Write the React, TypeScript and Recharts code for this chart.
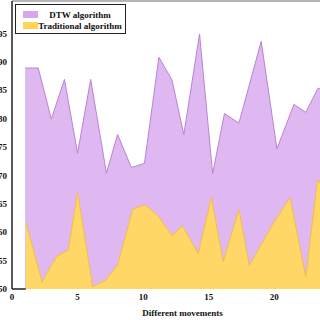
import { AreaChart, Area, XAxis, YAxis, Legend, ReferenceLine } from 'recharts';

const dtwX = [1, 2, 3, 4, 5, 6, 7.2, 8.05, 9.1, 10.1, 11.2, 12.2, 13.1, 14.3, 15.3, 16.2, 17.3, 19, 20.2, 21.5, 22.4, 23.3, 24.2];
const dtwY = [88.9, 88.9, 79.9, 86.9, 73.9, 86.9, 70.4, 77.2, 71.4, 72.1, 90.8, 86.8, 77.2, 94.9, 70.3, 80.9, 79.2, 93.6, 74.7, 82.5, 81.1, 85.2, 86];

const tradX = [1.05, 2.3, 3.05, 3.4, 4.3, 5, 6.15, 7.15, 8.05, 9.2, 10.1, 11.1, 12.2, 13, 14.2, 15.2, 16.1, 17.3, 18.1, 19.85, 21.2, 22.4, 23.3, 24.2];
const tradY = [61.8, 51.2, 54.4, 55.7, 56.9, 67.1, 50.4, 51.6, 54.2, 64, 64.8, 63, 59.4, 61.1, 56.2, 66.1, 54.8, 64, 54.1, 61.3, 66.1, 52.1, 69.3, 66];

const xTicks = [0, 5, 10, 15, 20];
const yTicks = [50, 55, 60, 65, 70, 75, 80, 85, 90, 95];
const seriesNames = ['DTW algorithm', 'Traditional algorithm'];

const PURPLE = '#dfb8f1';
const PURPLE_LINE = '#b784d2';
const YELLOW = '#ffd766';
const YELLOW_LINE = '#f3be46';
const FONT = '"Liberation Serif", "Times New Roman", serif';

const rows = [
  ...dtwX.map((x, i) => ({ x, dtw: dtwY[i] })),
  ...tradX.map((x, i) => ({ x, trad: tradY[i] })),
].sort((a, b) => a.x - b.x);

const tickStyle = { fontFamily: FONT, fontWeight: 700, fontSize: 9, fill: '#111' };

const LegendBox = () => (
  <div
    style={{
      border: '1px solid #222',
      background: '#fff',
      width: 109,
      height: 28,
      fontFamily: FONT,
      fontWeight: 700,
      fontSize: 9,
      color: '#111',
      boxSizing: 'content-box',
    }}
  >
    {seriesNames.map((name, i) => (
      <div key={name} style={{ display: 'flex', alignItems: 'center', height: 11, marginTop: i === 0 ? 4 : 0 }}>
        <span
          style={{
            display: 'inline-block',
            width: 15,
            height: 7,
            marginLeft: 7,
            background: i === 0 ? '#d6a6ee' : '#fdd658',
          }}
        />
        <span style={{ flex: 1, textAlign: 'center', whiteSpace: 'nowrap', paddingRight: 3 }}>{name}</span>
      </div>
    ))}
  </div>
);

export default function App() {
  return (
    <div style={{ position: 'fixed', left: 0, top: 0, width: 320, height: 320, overflow: 'hidden', background: '#fff' }}>
      <AreaChart width={363} height={320} data={rows} margin={{ top: 1, right: 10, left: 0, bottom: 0 }}>
        <XAxis
          type="number"
          dataKey="x"
          domain={[0, 26]}
          ticks={xTicks}
          tickLine={false}
          tickSize={0}
          tickMargin={5}
          height={31}
          axisLine={false}
          tick={tickStyle}
          label={{ value: 'Different movements', position: 'insideBottom', offset: 4, style: tickStyle }}
        />
        <YAxis
          type="number"
          domain={[50, 100.7]}
          ticks={yTicks}
          width={12}
          tickLine={false}
          tickSize={0}
          tickMargin={5}
          axisLine={{ stroke: '#222', strokeWidth: 1.5 }}
          tick={tickStyle}
        />
        <ReferenceLine y={100.7} stroke="#b5b5b5" strokeWidth={2} />
        <Area
          type="linear"
          dataKey="dtw"
          name={seriesNames[0]}
          stroke={PURPLE_LINE}
          strokeWidth={1}
          fill={PURPLE}
          fillOpacity={1}
          baseValue="dataMin"
          connectNulls
          dot={false}
          activeDot={false}
          isAnimationActive={false}
        />
        <Area
          type="linear"
          dataKey="trad"
          name={seriesNames[1]}
          stroke={YELLOW_LINE}
          strokeWidth={1}
          fill={YELLOW}
          fillOpacity={1}
          baseValue="dataMin"
          connectNulls
          dot={false}
          activeDot={false}
          isAnimationActive={false}
        />
        <ReferenceLine
          segment={[{ x: 0, y: 50 }, { x: 1.05, y: 50 }]}
          stroke="#222"
          strokeWidth={1.5}
        />
        <Legend
          layout="horizontal"
          verticalAlign="middle"
          align="center"
          content={() => <LegendBox />}
          wrapperStyle={{ left: 15, top: 4, width: 111, height: 30 }}
        />
      </AreaChart>
    </div>
  );
}
